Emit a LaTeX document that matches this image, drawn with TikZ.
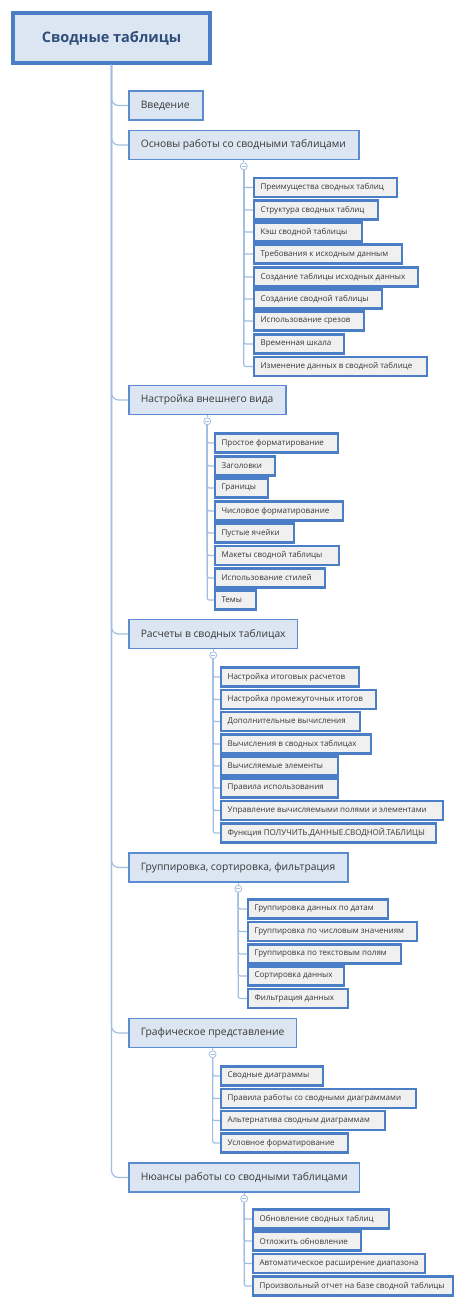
\documentclass[tikz,border=0pt]{standalone}
\usepackage{fontspec}
\setmainfont{Open Sans}
\definecolor{rootborder}{HTML}{4A7EC7}
\definecolor{rootfill}{HTML}{DCE6F2}
\definecolor{roottext}{HTML}{2F4E7A}
\definecolor{lonefill}{HTML}{DCE6F2}
\definecolor{loneborder}{HTML}{5B8BD0}
\definecolor{ltwoborder}{HTML}{4A7EC7}
\definecolor{ltwofill}{HTML}{F0F0F0}
\definecolor{connc}{HTML}{A3BDE0}
\definecolor{txtc}{HTML}{383838}
\newlength\mylenw
\newcommand\fitbox[3]{\settowidth\mylenw{#3}\ifdim\mylenw<\dimexpr#1pt-#2pt\relax\mylenw=\dimexpr#1pt-#2pt\relax\fi\makebox[\mylenw][l]{#3}}
\newcommand\lbA[2]{\fitbox{#1}{24}{#2}}
\newcommand\lbB[2]{\fitbox{#1}{13}{#2}}
\begin{document}
\begin{tikzpicture}[x=1pt,y=-1pt,
  rootbox/.style={draw=rootborder,fill=rootfill,line width=3.5pt,text=roottext,
    font=\fontsize{14.5}{16}\selectfont\bfseries,minimum width=197pt,minimum height=50pt,inner sep=0pt},
  lone/.style={draw=loneborder,fill=lonefill,line width=1.5pt,text=txtc,anchor=west,
    font=\fontsize{10.3}{12}\selectfont,minimum height=29pt,inner xsep=12pt,inner ysep=0pt},
  ltwo/.style={draw=ltwoborder,fill=ltwofill,line width=2.2pt,text=txtc,anchor=west,
    font=\fontsize{8}{10}\selectfont,minimum height=19pt,inner xsep=6.5pt,inner ysep=0pt},
  conn/.style={draw=connc,line width=1.2pt},
  trunk/.style={conn,rounded corners=7pt},
  branch/.style={conn,rounded corners=2pt},
  tog/.style={circle,draw=connc,fill=white,line width=0.8pt,minimum size=7pt,inner sep=0pt,
    path picture={\draw[connc,line width=0.7pt] ([xshift=-2pt]path picture bounding box.center) -- ([xshift=2pt]path picture bounding box.center);}}
]
\useasboundingbox (0,0) rectangle (474,1309);

\node[rootbox] (root) at (111.5,38) {Сводные таблицы};

% level 1
\node[lone] (v)  at (128,105.5) {\lbA{74}{Введение}};
\node[lone] (o)  at (128,145)   {\lbA{230}{Основы работы со сводными таблицами}};
\node[lone] (n)  at (128,400)   {\lbA{157}{Настройка внешнего вида}};
\node[lone] (r)  at (128,634)   {\lbA{167}{Расчеты в сводных таблицах}};
\node[lone] (g)  at (128,867.5) {\lbA{219}{Группировка, сортировка, фильтрация}};
\node[lone] (gr) at (128,1033)  {\lbA{166}{Графическое представление}};
\node[lone] (nu) at (128,1177.5){\lbA{230}{Нюансы работы со сводными таблицами}};

\foreach \t in {v,o,n,r,g,gr,nu} \draw[trunk] (root.south) |- (\t.west);

% group o
\node[ltwo] (o1) at (253,187.5) {\lbB{143}{Преимущества сводных таблиц}};
\node[ltwo] (o2) at (253,210)   {\lbB{124}{Структура сводных таблиц}};
\node[ltwo] (o3) at (253,232)   {\lbB{108}{Кэш сводной таблицы}};
\node[ltwo] (o4) at (253,254)   {\lbB{148}{Требования к исходным данным}};
\node[ltwo] (o5) at (253,277)   {\lbB{164}{Создание таблицы исходных данных}};
\node[ltwo] (o6) at (253,299)   {\lbB{128}{Создание сводной таблицы}};
\node[ltwo] (o7) at (253,321)   {\lbB{110}{Использование срезов}};
\node[ltwo] (o8) at (253,344)   {\lbB{90}{Временная шкала}};
\node[ltwo] (o9) at (253,366.5) {\lbB{173}{Изменение данных в сводной таблице}};

% group n
\node[ltwo] (n1) at (214,443) {\lbB{123}{Простое форматирование}};
\node[ltwo] (n2) at (214,466) {\lbB{60}{Заголовки}};
\node[ltwo] (n3) at (214,488) {\lbB{53}{Границы}};
\node[ltwo] (n4) at (214,511) {\lbB{128}{Числовое форматирование}};
\node[ltwo] (n5) at (214,533) {\lbB{79}{Пустые ячейки}};
\node[ltwo] (n6) at (214,555.5) {\lbB{124}{Макеты сводной таблицы}};
\node[ltwo] (n7) at (214,578) {\lbB{110}{Использование стилей}};
\node[ltwo] (n8) at (214,600) {\lbB{41}{Темы}};

% group r
\node[ltwo] (r1) at (220,677)   {\lbB{138}{Настройка итоговых расчетов}};
\node[ltwo] (r2) at (220,699.5) {\lbB{155}{Настройка промежуточных итогов}};
\node[ltwo] (r3) at (220,721.5) {\lbB{139}{Дополнительные вычисления}};
\node[ltwo] (r4) at (220,744)   {\lbB{150}{Вычисления в сводных таблицах}};
\node[ltwo] (r5) at (220,766)   {\lbB{117}{Вычисляемые элементы}};
\node[ltwo] (r6) at (220,788)   {\lbB{117}{Правила использования}};
\node[ltwo] (r7) at (220,810.5) {\lbB{222}{Управление вычисляемыми полями и элементами}};
\node[ltwo] (r8) at (220,833)   {\lbB{215}{Функция ПОЛУЧИТЬ.ДАННЫЕ.СВОДНОЙ.ТАБЛИЦЫ}};

% group g
\node[ltwo] (g1) at (247,909)   {\lbB{140}{Группировка данных по датам}};
\node[ltwo] (g2) at (247,931.5) {\lbB{169}{Группировка по числовым значениям}};
\node[ltwo] (g3) at (247,954)   {\lbB{153}{Группировка по текстовым полям}};
\node[ltwo] (g4) at (247,976)   {\lbB{96}{Сортировка данных}};
\node[ltwo] (g5) at (247,998.5) {\lbB{100}{Фильтрация данных}};

% group gr
\node[ltwo] (gr1) at (220,1076)   {\lbB{102}{Сводные диаграммы}};
\node[ltwo] (gr2) at (220,1098.5) {\lbB{195}{Правила работы со сводными диаграммами}};
\node[ltwo] (gr3) at (220,1120.5) {\lbB{164}{Альтернатива сводным диаграммам}};
\node[ltwo] (gr4) at (220,1143)   {\lbB{127}{Условное форматирование}};

% group nu
\node[ltwo] (nu1) at (252,1219)   {\lbB{136}{Обновление сводных таблиц}};
\node[ltwo] (nu2) at (252,1241)   {\lbB{108}{Отложить обновление}};
\node[ltwo] (nu3) at (252,1263.5) {\lbB{171}{Автоматическое расширение диапазона}};
\node[ltwo] (nu4) at (252,1286)   {\lbB{200}{Произвольный отчет на базе сводной таблицы}};

% toggles (below each parent, centred)
\node[tog] (to)  at ([yshift=-6pt]o.south)  {};
\node[tog] (tn)  at ([yshift=-6pt]n.south)  {};
\node[tog] (tr)  at ([yshift=-6pt]r.south)  {};
\node[tog] (tg)  at ([yshift=-6pt]g.south)  {};
\node[tog] (tgr) at ([yshift=-6pt]gr.south) {};
\node[tog] (tnu) at ([yshift=-6pt]nu.south) {};
\foreach \p/\q in {o/to,n/tn,r/tr,g/tg,gr/tgr,nu/tnu} \draw[conn] (\p.south) -- (\q.north);

\foreach \c in {o1,o2,o3,o4,o5,o6,o7,o8,o9} \draw[branch] (to.south) |- (\c.west);
\foreach \c in {n1,n2,n3,n4,n5,n6,n7,n8} \draw[branch] (tn.south) |- (\c.west);
\foreach \c in {r1,r2,r3,r4,r5,r6,r7,r8} \draw[branch] (tr.south) |- (\c.west);
\foreach \c in {g1,g2,g3,g4,g5} \draw[branch] (tg.south) |- (\c.west);
\foreach \c in {gr1,gr2,gr3,gr4} \draw[branch] (tgr.south) |- (\c.west);
\foreach \c in {nu1,nu2,nu3,nu4} \draw[branch] (tnu.south) |- (\c.west);
\end{tikzpicture}
\end{document}
